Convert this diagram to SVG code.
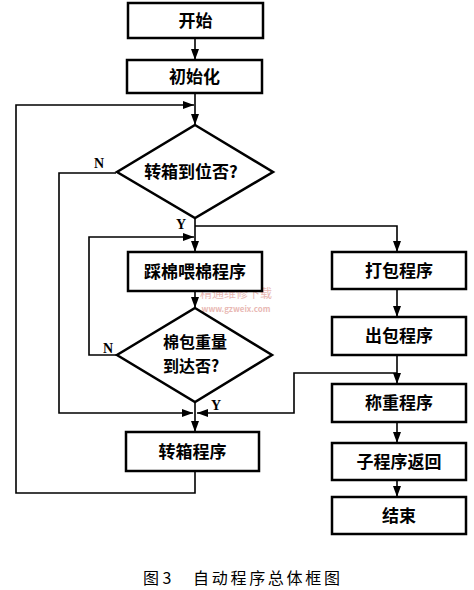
<svg xmlns="http://www.w3.org/2000/svg" width="474" height="590" viewBox="0 0 474 590">
<style>
.box{fill:#fff;stroke:#000;stroke-width:2.5}
.dia{fill:#fff;stroke:#000;stroke-width:2.5}
.t{font-family:"Noto Sans CJK SC","Noto Sans CJK JP",sans-serif;font-size:17px;font-weight:bold;text-anchor:middle;fill:#000}
.t2{font-family:"Noto Sans CJK SC","Noto Sans CJK JP",sans-serif;font-size:16px;font-weight:bold;text-anchor:middle;fill:#000}
.lbl{font-family:"Liberation Serif",serif;font-size:14px;font-weight:bold;fill:#000}
.c{fill:none;stroke:#000;stroke-width:1.6}
.cap{font-family:"Noto Sans CJK SC","Noto Sans CJK JP",sans-serif;font-size:16px;fill:#000}
.wm{font-family:"Noto Sans CJK SC",serif;fill:#e9b9b4;text-anchor:middle}
</style>
<defs>
<marker id="ah" markerUnits="userSpaceOnUse" markerWidth="12" markerHeight="10" refX="11" refY="4" orient="auto">
<path d="M0,0 L11,4 L0,8 Z" fill="#000"/>
</marker>
</defs>
<rect width="474" height="590" fill="#fff"/>
<g id="watermark"><text class="wm" x="236" y="298" font-size="12">精通维修下载</text><text class="wm" x="236" y="312" font-size="8" font-family="Liberation Sans,sans-serif" font-weight="bold">www.gzweix.com</text></g>
<g id="connectors">
<path class="c" d="M195,38 V60" marker-end="url(#ah)"/>
<path class="c" d="M195,93 V125" marker-end="url(#ah)"/>
<path class="c" d="M195,471 V493 H16 V105 H194" marker-end="url(#ah)"/>
<path class="c" d="M116,173 H59 V413 H193" marker-end="url(#ah)"/>
<path class="c" d="M195,218 V252" marker-end="url(#ah)"/>
<path class="c" d="M195,226 H397 V252" marker-end="url(#ah)"/>
<path class="c" d="M117,355 H89 V237 H194" marker-end="url(#ah)"/>
<path class="c" d="M195,291 V308" marker-end="url(#ah)"/>
<path class="c" d="M195,402 V432" marker-end="url(#ah)"/>
<path class="c" d="M397,289 V317" marker-end="url(#ah)"/>
<path class="c" d="M397,355 V384" marker-end="url(#ah)"/>
<path class="c" d="M397,373 H294 V413 H197" marker-end="url(#ah)"/>
<path class="c" d="M397,422 V443" marker-end="url(#ah)"/>
<path class="c" d="M397,480 V497" marker-end="url(#ah)"/>
</g>
<g id="labels">
<text class="lbl" x="94" y="168">N</text>
<text class="lbl" x="176" y="229">Y</text>
<text class="lbl" x="103" y="353">N</text>
<text class="lbl" x="211" y="410">Y</text>
</g>
<g id="start"><rect class="box" x="128" y="3" width="135" height="35"/><text class="t" x="195.5" y="27">开始</text></g>
<g id="init"><rect class="box" x="127" y="60" width="135" height="33"/><text class="t" x="194.5" y="83">初始化</text></g>
<g id="d1"><polygon class="dia" points="195,125 273,172 195,218 117,172"/><text class="t" x="191" y="178">转箱到位否?</text></g>
<g id="feed"><rect class="box" x="128" y="252" width="134" height="39"/><text class="t" x="195" y="278">踩棉喂棉程序</text></g>
<g id="d2"><polygon class="dia" points="195,308 272,355 195,402 117,355"/><text class="t2" x="195" y="348">棉包重量</text><text class="t2" x="191" y="372">到达否?</text></g>
<g id="turn"><rect class="box" x="126" y="432" width="133" height="39"/><text class="t" x="192.5" y="458">转箱程序</text></g>
<g id="pack"><rect class="box" x="332" y="252" width="134" height="37"/><text class="t" x="399" y="277">打包程序</text></g>
<g id="out"><rect class="box" x="332" y="317" width="134" height="38"/><text class="t" x="399" y="342">出包程序</text></g>
<g id="weigh"><rect class="box" x="332" y="384" width="134" height="38"/><text class="t" x="399" y="409">称重程序</text></g>
<g id="ret"><rect class="box" x="332" y="443" width="134" height="37"/><text class="t" x="399" y="468">子程序返回</text></g>
<g id="end"><rect class="box" x="332" y="497" width="134" height="37"/><text class="t" x="399" y="522">结束</text></g>
<g id="caption"><text class="cap" x="143" y="584">图 3</text><text class="cap" x="193" y="584" textLength="147">自动程序总体框图</text></g>
</svg>
